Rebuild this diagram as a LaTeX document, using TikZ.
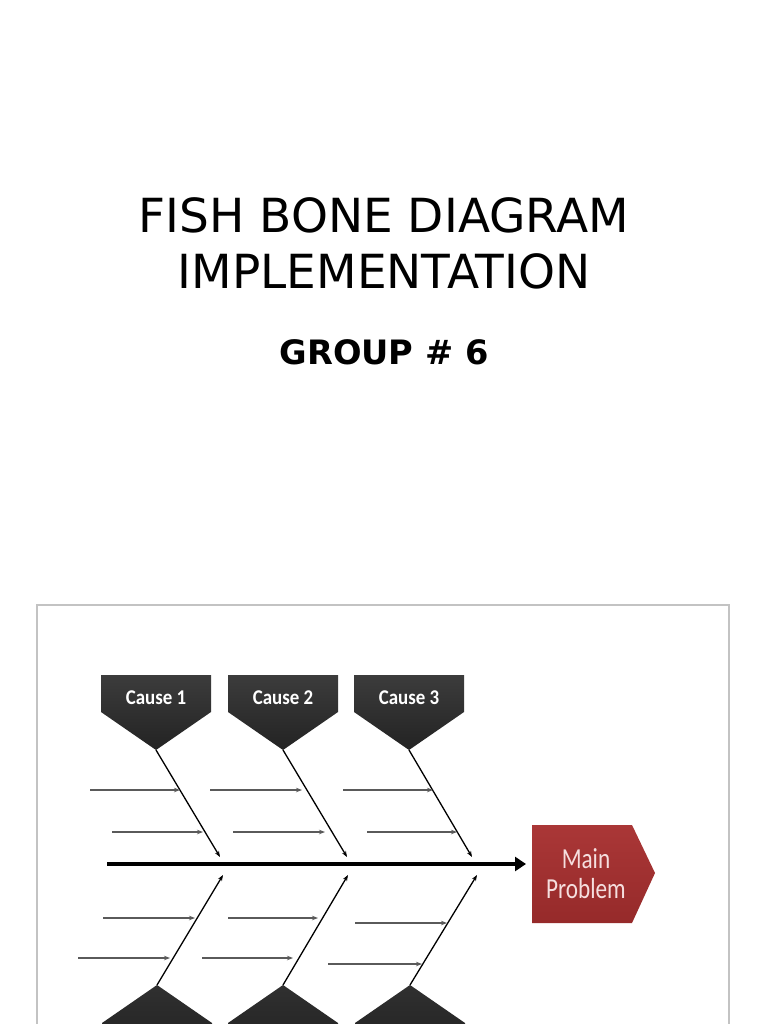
\documentclass[tikz,border=0pt]{standalone}
\usepackage{fontspec}
\usepackage{graphicx}
\setmainfont{DejaVu Sans}
\newfontfamily\calib{Carlito}
\usetikzlibrary{arrows.meta}
\definecolor{boxdark}{RGB}{35,35,35}
\definecolor{boxtop}{RGB}{60,60,60}
\definecolor{mainred}{RGB}{150,42,42}
\definecolor{mainredtop}{RGB}{170,55,55}
\definecolor{maintext}{RGB}{245,222,222}
\definecolor{ribgray}{RGB}{90,90,90}
\definecolor{framegray}{RGB}{195,195,195}
\tikzset{
  titletext/.style={anchor=base, font=\fontsize{47}{55}\selectfont},
  grouptext/.style={anchor=base, font=\bfseries\fontsize{33.6}{40}\selectfont},
  causetext/.style={text=white, font=\calib\bfseries\fontsize{21}{24}\selectfont, inner sep=0pt},
  causebox/.style={top color=boxtop, bottom color=boxdark, draw=none},
  bone/.style={draw=black, line width=1.3pt, -{Stealth[length=6pt,width=4.5pt]}},
  rib/.style={draw=ribgray, line width=1.3pt, -{Stealth[length=6pt,width=4.5pt]}},
  spine/.style={draw=black, line width=4.5pt, -{Triangle[length=11pt,width=14pt]}},
  mainbox/.style={top color=mainredtop, bottom color=mainred, draw=none},
}
\begin{document}
\begin{tikzpicture}[x=1pt,y=-1pt]
\useasboundingbox (0,0) rectangle (768,1024);
\clip (0,0) rectangle (768,1024);

% titles
\node[titletext] (t1) at (384,233) {FISH BONE DIAGRAM};
\node[titletext] (t2) at (384,288) {IMPLEMENTATION};
\node[grouptext] (grp) at (384,364) {GROUP \# 6};

% frame
\draw[framegray, line width=1.5pt] (37,605) rectangle (729,1045);

% upper cause boxes
\foreach \L/\n in {101/1,228/2,354/3}{
  \shade[causebox] (\L,675) -- (\L+110,675) -- (\L+110,712) -- (\L+55,750) -- (\L,712) -- cycle;
  \node[causetext] (cause\n) at (\L+55,698) {\scalebox{0.9}[1]{Cause \n}};
  \coordinate (ctip\n) at (\L+55,750);
}
% lower cause boxes
\foreach \X/\n in {157/4,283/5,410/6}{
  \shade[causebox, top color=boxtop!80!black] (\X,985) -- (\X+55,1023) -- (\X+55,1045) -- (\X-55,1045) -- (\X-55,1023) -- cycle;
  \coordinate (ctip\n) at (\X,985);
}

% main problem
\shade[mainbox] (532,825) -- (632,825) -- (655,873) -- (632,923) -- (532,923) -- cycle;
\node[align=center, text=maintext, font=\calib\fontsize{29}{30}\selectfont, inner sep=0pt] (main) at (586,874)
  {\scalebox{0.8}[1]{Main}\\\scalebox{0.8}[1]{Problem}};

% spine
\coordinate (spL) at (107,864);
\coordinate (spR) at (526,864);
\draw[spine] (spL) -- (spR);

% bone ends
\coordinate (b1) at (220,857);
\coordinate (b2) at (347,857);
\coordinate (b3) at (472,857);
\coordinate (b4) at (223,875);
\coordinate (b5) at (348,875);
\coordinate (b6) at (477,875);
\foreach \n in {1,...,6}{\draw[bone] (ctip\n) -- (b\n);}

% ribs
\foreach \a/\b/\y/\n in {90/180/790/1, 210/302/790/2, 343/433/790/3,
                        112/203/832/4, 233/325/832/5, 367/457/832/6,
                        103/195/918/7, 228/318/918/8, 355/447/923/9,
                        78/170/958/10, 202/293/958/11, 328/422/964/12}{
  \coordinate (ra\n) at (\a,\y);
  \coordinate (rb\n) at (\b,\y);
  \draw[rib] (ra\n) -- (rb\n);
}
\end{tikzpicture}
\end{document}
